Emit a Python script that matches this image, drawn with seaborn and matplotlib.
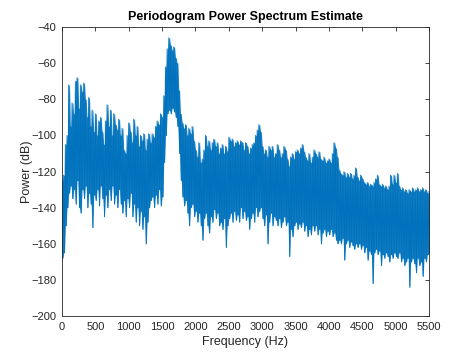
import numpy as np
import pandas as pd
import matplotlib
matplotlib.use("Agg")
import matplotlib.pyplot as plt
import seaborn as sns

freq_step = 25
# Upper (peak) values of the periodogram trace, dB, one per 25 Hz from 0 to 5500 Hz
power_hi = [
    -125, -122, -105, -100, -72, -95, -82, -88, -70, -68,        # 0-225
    -85, -72, -76, -71, -80, -90, -79, -95, -86, -98,            # 250-475
    -88, -100, -92, -90, -98, -105, -92, -83, -95, -86,          # 500-725
    -100, -88, -94, -97, -91, -100, -96, -108, -110, -100,       # 750-975
    -93, -98, -104, -91, -100, -95, -106, -100, -103, -99,       # 1000-1225
    -108, -102, -99, -104, -99, -101, -95, -92, -94, -88,        # 1250-1475
    -90, -78, -62, -52, -46, -50, -53, -51, -57, -60,            # 1500-1725
    -75, -88, -93, -96, -94, -100, -96, -99, -95, -103,          # 1750-1975
    -108, -112, -104, -115, -113, -108, -100, -106, -103, -108,  # 2000-2225
    -104, -102, -106, -104, -110, -107, -105, -110, -106, -109,  # 2250-2475
    -101, -103, -102, -106, -104, -103, -105, -103, -104, -108,  # 2500-2725
    -104, -106, -110, -107, -105, -104, -100, -97, -94, -98,     # 2750-2975
    -106, -110, -108, -112, -106, -108, -106, -112, -110, -105,  # 3000-3225
    -108, -112, -110, -106, -108, -113, -117, -112, -110, -113,  # 3250-3475
    -109, -108, -110, -107, -105, -109, -112, -114, -110, -115,  # 3500-3725
    -112, -108, -110, -112, -109, -113, -114, -112, -115, -114,  # 3750-3975
    -113, -115, -110, -104, -107, -112, -119, -121, -122, -120,  # 4000-4225
    -123, -121, -123, -121, -124, -122, -118, -123, -125, -122,  # 4250-4475
    -124, -126, -127, -126, -128, -127, -128, -126, -124, -122,  # 4500-4725
    -127, -128, -127, -129, -128, -130, -128, -122, -127, -122,  # 4750-4975
    -126, -121, -128, -130, -129, -131, -130, -132, -130, -131,  # 5000-5225
    -129, -131, -130, -129, -131, -130, -129, -131, -130, -132,  # 5250-5475
    -131,                                                        # 5500
]
# Lower (trough) values of the trace, dB, same grid
power_lo = [
    -168, -165, -150, -140, -132, -128, -135, -130, -138, -125,
    -140, -143, -130, -135, -128, -140, -132, -138, -151, -133,
    -136, -130, -139, -128, -135, -145, -133, -140, -130, -136,
    -128, -138, -133, -140, -130, -138, -143, -136, -145, -135,
    -140, -132, -145, -138, -148, -140, -150, -142, -152, -145,
    -160, -148, -140, -136, -134, -140, -133, -138, -130, -139,
    -134, -115, -100, -88, -86, -88, -85, -87, -90, -95,
    -110, -125, -134, -139, -136, -143, -150, -140, -138, -145,
    -142, -148, -143, -150, -158, -146, -143, -150, -154, -145,
    -148, -141, -146, -143, -150, -148, -152, -146, -162, -150,
    -146, -143, -148, -142, -147, -144, -148, -140, -146, -142,
    -147, -145, -152, -146, -143, -148, -140, -145, -142, -140,
    -146, -150, -144, -160, -148, -143, -150, -145, -147, -150,
    -146, -151, -148, -145, -150, -148, -167, -152, -156, -150,
    -148, -152, -149, -151, -148, -153, -150, -156, -152, -155,
    -150, -153, -150, -155, -152, -160, -154, -152, -156, -153,
    -155, -152, -156, -154, -158, -160, -158, -160, -157, -169,
    -160, -158, -162, -159, -161, -163, -160, -162, -160, -163,
    -161, -165, -162, -169, -164, -166, -182, -165, -163, -166,
    -164, -172, -166, -168, -165, -167, -170, -166, -168, -165,
    -167, -168, -165, -170, -168, -172, -170, -168, -184, -170,
    -168, -171, -176, -168, -172, -170, -178, -168, -170, -166,
    -165,
]
x_ticks = [0, 500, 1000, 1500, 2000, 2500, 3000, 3500, 4000, 4500, 5000, 5500]
y_ticks = [-200, -180, -160, -140, -120, -100, -80, -60, -40]

assert len(power_hi) == len(power_lo)
freq = np.arange(len(power_hi)) * freq_step
hi = np.asarray(power_hi, float)
lo = np.asarray(power_lo, float)
# interleave upper and lower readings into one dense trace
x = np.column_stack([freq, freq + freq_step / 2]).ravel()
y = np.column_stack([hi, lo]).ravel()
df = pd.DataFrame({"Frequency (Hz)": x, "Power (dB)": y})

sns.set_style("white")
plt.rcParams["font.family"] = ["Liberation Sans", "DejaVu Sans"]

color = "#0072BD"
fig = plt.figure(figsize=(4.74, 3.55), dpi=100)
ax = fig.add_axes([62 / 474, 1 - 316 / 355, (429 - 62) / 474, (316 - 27) / 355])
# dense body of the trace
ax.fill_between(x, np.repeat(hi, 2), np.repeat(lo, 2), color=color,
                linewidth=0, alpha=0.9)
sns.lineplot(data=df, x="Frequency (Hz)", y="Power (dB)", ax=ax,
             sort=False, estimator=None, color=color, linewidth=0.6)

ax.set_xlim(0, 5500)
ax.set_ylim(-200, -40)
ax.set_xticks(x_ticks)
ax.set_yticks(y_ticks)
ax.tick_params(axis="both", direction="in", length=3, width=0.6,
               labelsize=8, colors="#262626", top=True, right=True, pad=4)
for s in ax.spines.values():
    s.set_color("#262626")
    s.set_linewidth(0.6)
ax.set_xlabel("Frequency (Hz)", fontsize=9, color="#262626", labelpad=3)
ax.set_ylabel("Power (dB)", fontsize=9, color="#262626", labelpad=-1)
ax.set_title("Periodogram Power Spectrum Estimate", fontsize=9,
             fontweight="bold", color="black", pad=5)
ax.grid(False)

fig.savefig("out.png", dpi=100)
